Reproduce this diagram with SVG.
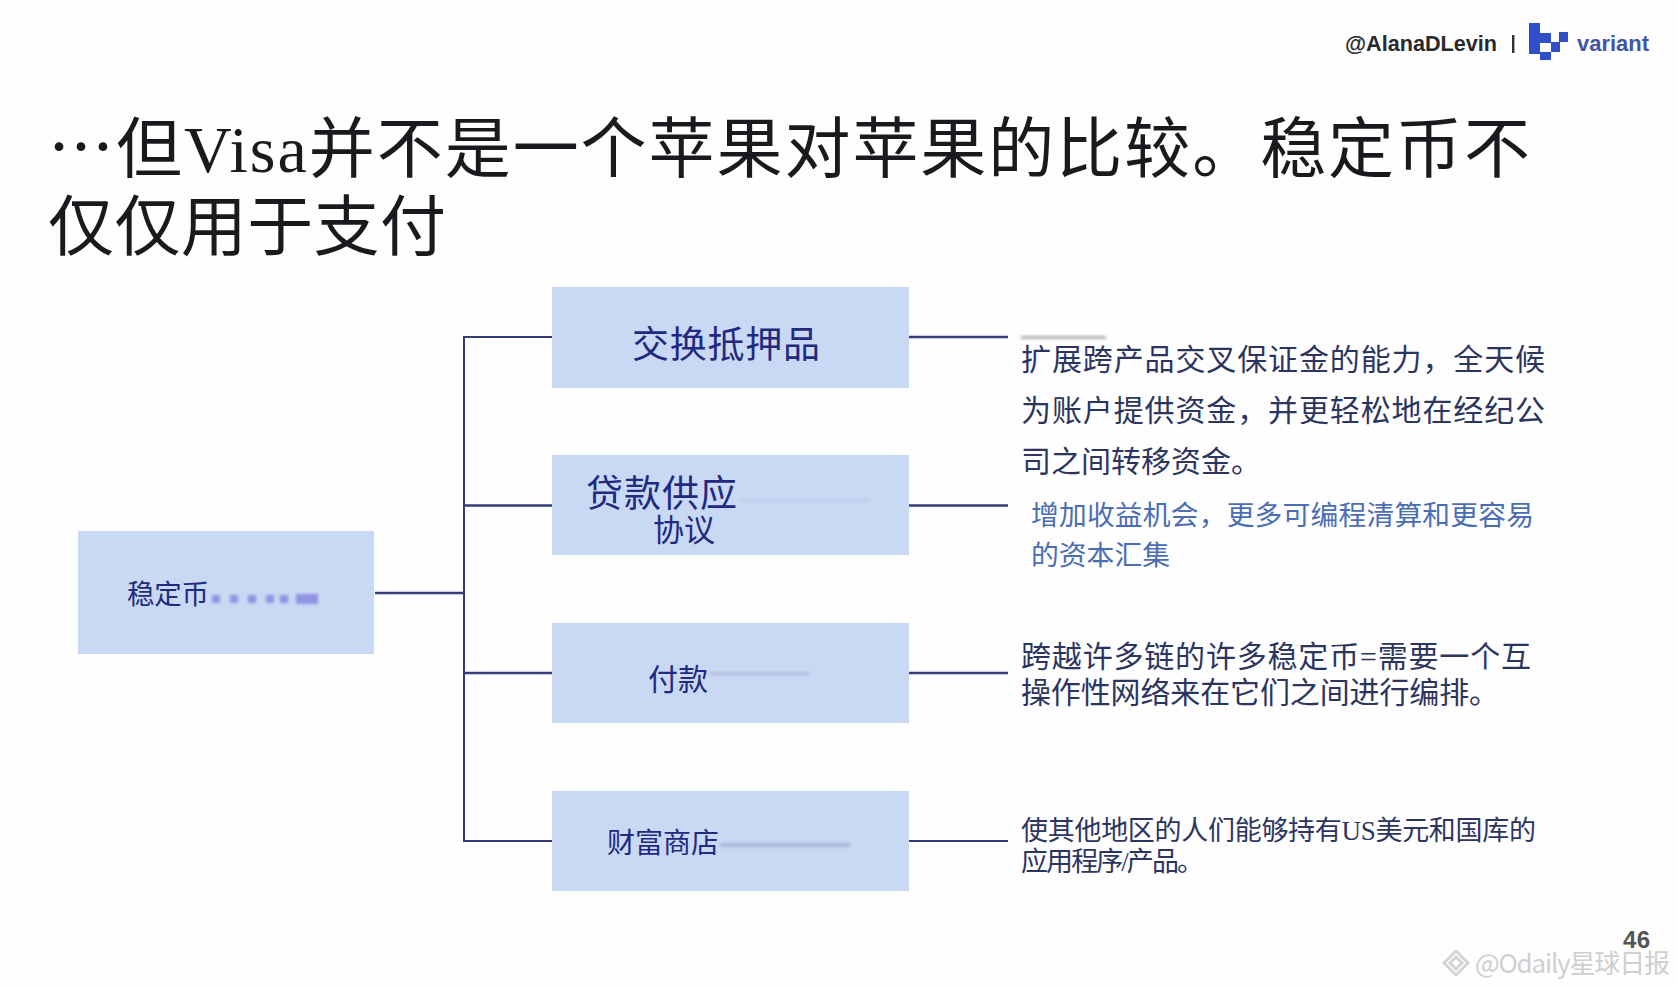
<svg xmlns="http://www.w3.org/2000/svg" width="1678" height="988" viewBox="0 0 1678 988">
<style>
text{font-family:"Liberation Serif","Noto Sans CJK SC",sans-serif}
.title{font-size:66px;fill:#1a1a1e}
.box{fill:#c9d8f3}
.n{fill:#1f2a80}
.d{fill:#2c3560}
.b{fill:#4a6db5;font-family:"Noto Sans CJK SC",sans-serif}
.con{fill:none;stroke:#363b7a;stroke-width:2.500}
.hdr{font-family:"Liberation Sans",sans-serif;font-weight:700}
.logo{fill:#2f50c8}
.sm{fill:#9aa3c4;filter:url(#bl)}
.dot{fill:#8f93e2;filter:url(#bl2)}
</style>
<defs>
<filter id="bl" x="-20%" y="-300%" width="140%" height="700%"><feGaussianBlur stdDeviation="1.800"/></filter>
<filter id="bl2" x="-60%" y="-60%" width="220%" height="220%"><feGaussianBlur stdDeviation="1.600"/></filter>
</defs>
<rect width="1678" height="988" fill="#fefefe"/>

<g id="header">
<text class="hdr" x="1345" y="51" font-size="22" fill="#2a2a2e" textLength="152" lengthAdjust="spacingAndGlyphs">@AlanaDLevin</text>
<rect x="1512" y="35" width="2.400" height="18" fill="#333"/>
<g id="logo" class="logo">
<rect x="1529" y="23" width="11" height="31"/>
<rect x="1540" y="33" width="11" height="10"/>
<rect x="1551" y="42" width="9" height="10"/>
<rect x="1559" y="32" width="9" height="10"/>
<rect x="1540" y="52" width="11" height="8"/>
</g>
<text class="hdr" x="1577" y="51" font-size="22" fill="#3f55a8" textLength="72" lengthAdjust="spacingAndGlyphs">variant</text>
</g>

<g id="title">
<text class="title" x="48" y="172" textLength="1482" lengthAdjust="spacing">⋯但Visa并不是一个苹果对苹果的比较。稳定币不</text>
<text class="title" x="48" y="250" textLength="398" lengthAdjust="spacing">仅仅用于支付</text>
</g>

<g id="connectors">
<path class="con" d="M375 593H464"/>
<path class="con" style="stroke-width:2" d="M552 337H464V841H552"/>
<path class="con" d="M464 505.500H552"/>
<path class="con" d="M464 673H552"/>
<path class="con" d="M909 337H1008"/>
<path class="con" d="M909 505.500H1008"/>
<path class="con" d="M909 673H1008"/>
<path class="con" style="stroke-width:2" d="M909 841H1008"/>
</g>

<g id="node-stablecoin">
<rect class="box" x="78" y="531" width="296" height="123"/>
<text class="n" x="127" y="604" font-size="27.500" textLength="82">稳定币</text>
<rect class="dot" x="212" y="595" width="8" height="8"/>
<rect class="dot" x="230" y="595" width="8" height="8"/>
<rect class="dot" x="248" y="595" width="8" height="8"/>
<rect class="dot" x="266" y="595" width="8" height="8"/>
<rect class="dot" x="280" y="595" width="8" height="8"/>
<rect class="dot" x="296" y="594" width="22" height="10"/>
</g>
<g id="node-collateral">
<rect class="box" x="552" y="287" width="357" height="101"/>
<text class="n" x="632" y="358" font-size="37" textLength="188">交换抵押品</text>
</g>
<g id="node-lending">
<rect class="box" x="552" y="455" width="357" height="100"/>
<text class="n" x="586" y="507" font-size="37" textLength="151">贷款供应</text>
<text class="n" x="653" y="541" font-size="31">协议</text>
<rect class="sm" x="740" y="499" width="130" height="3" opacity=".22"/>
</g>
<g id="node-payments">
<rect class="box" x="552" y="623" width="357" height="100"/>
<text class="n" x="648" y="690" font-size="30">付款</text>
<rect class="sm" x="710" y="672" width="100" height="3" opacity=".5"/>
</g>
<g id="node-store">
<rect class="box" x="552" y="791" width="357" height="100"/>
<text class="n" x="607" y="853" font-size="28">财富商店</text>
<rect class="sm" x="720" y="843" width="130" height="4" opacity=".6"/>
</g>

<g id="descriptions">
<rect x="1021" y="336" width="85" height="3" fill="#999" filter="url(#bl)" opacity=".8"/>
<text class="d" x="1021" y="370" font-size="30" textLength="524">扩展跨产品交叉保证金的能力，全天候</text>
<text class="d" x="1021" y="421" font-size="30" textLength="524">为账户提供资金，并更轻松地在经纪公</text>
<text class="d" x="1021" y="472" font-size="30">司之间转移资金。</text>
<text class="b" x="1031" y="525" font-size="27.800" textLength="503">增加收益机会，更多可编程清算和更容易</text>
<text class="b" x="1031" y="565" font-size="27.800">的资本汇集</text>
<text class="d" x="1021" y="667" font-size="30" textLength="510">跨越许多链的许多稳定币=需要一个互</text>
<text class="d" x="1021" y="703" font-size="30" textLength="478">操作性网络来在它们之间进行编排。</text>
<text class="d" x="1021" y="840" font-size="27" textLength="515">使其他地区的人们能够持有US美元和国库的</text>
<text class="d" x="1021" y="871" font-size="27" textLength="183">应用程序/产品。</text>
</g>

<g id="footer">
<text class="hdr" x="1623" y="948" font-size="24" fill="#555" textLength="27">46</text>
<path d="M1456 951l12 12-12 12-12-12zM1456 957l6 6-6 6-6-6z" fill="none" stroke="#d4d4d4" stroke-width="3"/>
<text x="1475" y="973" font-size="26" fill="#cfcfcf" style="font-family:'Noto Sans CJK SC',sans-serif" textLength="195">@Odaily星球日报</text>
</g>
</svg>
